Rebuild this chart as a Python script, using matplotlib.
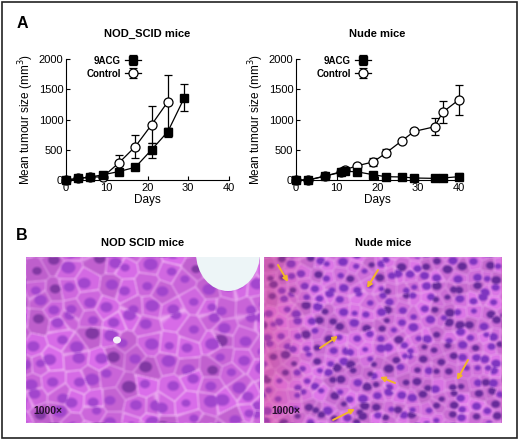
import numpy as np
import matplotlib
matplotlib.use("Agg")
import matplotlib.pyplot as plt
from matplotlib.patches import Rectangle, Ellipse

plt.rcParams['font.family'] = ['Liberation Sans', 'DejaVu Sans']

# ---------------- data ----------------
scid_days_acg = [0, 3, 6, 9, 13, 17, 21, 25, 29]
scid_acg = [0, 25, 50, 85, 140, 210, 500, 800, 1355]
scid_acg_lo = [0, 0, 0, 0, 0, 0, 135, 95, 218]
scid_acg_hi = [0, 0, 0, 0, 0, 0, 110, 60, 230]

scid_days_ctl = [0, 3, 6, 9, 13, 17, 21, 25]
scid_ctl = [0, 25, 50, 50, 284, 552, 913, 1295]
scid_ctl_lo = [0, 0, 0, 0, 130, 186, 300, 430]
scid_ctl_hi = [0, 0, 0, 0, 126, 191, 317, 443]

nude_days = [0, 3, 7, 11, 12, 15, 19, 22, 26, 29, 34, 36, 40]
nude_acg = [0, 0, 65, 125, 145, 135, 87, 55, 50, 33, 27, 33, 55]
nude_acg_lo = [0, 0, 0, 0, 0, 0, 0, 0, 0, 0, 0, 0, 30]
nude_acg_hi = [0, 0, 0, 0, 0, 0, 0, 0, 0, 0, 0, 0, 60]
nude_ctl = [0, 0, 60, 137, 170, 235, 300, 443, 650, 803, 880, 1120, 1328]
nude_ctl_lo = [0, 0, 0, 0, 0, 0, 76, 44, 0, 33, 131, 186, 246]
nude_ctl_hi = [0, 0, 0, 0, 0, 0, 66, 65, 0, 33, 147, 180, 235]

x_ticks = [0, 10, 20, 30, 40]
y_ticks = [0, 500, 1000, 1500, 2000]
series_names = ['9ACG', 'Control']
panel_titles = ['NOD_SCID mice', 'Nude mice']
image_titles = ['NOD SCID mice', 'Nude mice']
magnification = '1000\u00d7'

# arrows in right micrograph (tail -> head), image pixel coords
arrow_tails = [(14, 8), (114, 13), (56, 91), (131, 126), (204, 103), (69, 163)]
arrow_heads = [(24, 25), (103, 31), (74, 79), (116, 120), (193, 123), (91, 152)]

W, H = 520, 441
fig = plt.figure(figsize=(W / 100, H / 100), dpi=100)
fig.patch.set_facecolor('white')


def fx(px):
    return px / W


def fy(py):
    return 1 - py / H


# outer frame
fig.patches.append(Rectangle((fx(2), fy(438)), fx(515), 436 / H, transform=fig.transFigure,
                             fill=False, edgecolor='#222222', linewidth=1.2))


def plot_panel(left_px, days_a, a, alo, ahi, days_c, c, clo, chi, title):
    ax = fig.add_axes([fx(left_px), fy(180), fx(163), (180 - 59) / H])
    ax.errorbar(days_c, c, yerr=[clo, chi], color='black', lw=0.9, elinewidth=0.9,
                capsize=3, capthick=0.9, marker='o', ms=6.5, mfc='white', mec='black',
                mew=0.9, label=series_names[1], clip_on=False, zorder=3)
    ax.errorbar(days_a, a, yerr=[alo, ahi], color='black', lw=0.9, elinewidth=0.9,
                capsize=3, capthick=0.9, marker='s', ms=5.8, mfc='black', mec='black',
                label=series_names[0], clip_on=False, zorder=4)
    ax.set_xlim(0, 40)
    ax.set_ylim(0, 2000)
    ax.set_xticks(x_ticks)
    ax.set_yticks(y_ticks)
    ax.tick_params(direction='in', length=3, width=0.8, labelsize=8, pad=2)
    for s in ['top', 'right']:
        ax.spines[s].set_visible(False)
    for s in ['left', 'bottom']:
        ax.spines[s].set_linewidth(0.8)
    ax.set_xlabel('Days', fontsize=8.5, labelpad=1)
    ax.set_ylabel('Mean tumour size (mm$^3$)', fontsize=8.5, labelpad=2)
    ax.set_title(title, fontsize=8, fontweight='bold', pad=16)
    handles, labels = ax.get_legend_handles_labels()
    leg = ax.legend(handles[::-1], labels[::-1], loc='upper left', bbox_to_anchor=(0.1, 1.06),
                    frameon=False, markerfirst=False, fontsize=7, handlelength=1.7,
                    handletextpad=0.4, labelspacing=0.3, borderaxespad=0)
    for t in leg.get_texts():
        t.set_fontweight('bold')
    ax.patch.set_alpha(0)
    return ax


plot_panel(66, scid_days_acg, scid_acg, scid_acg_lo, scid_acg_hi,
           scid_days_ctl, scid_ctl, scid_ctl_lo, scid_ctl_hi, panel_titles[0])
plot_panel(296, nude_days, nude_acg, nude_acg_lo, nude_acg_hi,
           nude_days, nude_ctl, nude_ctl_lo, nude_ctl_hi, panel_titles[1])

fig.text(fx(22), fy(24), 'A', fontsize=11.5, fontweight='bold', va='center', ha='center')
fig.text(fx(22), fy(236), 'B', fontsize=11.5, fontweight='bold', va='center', ha='center')


# ---------------- micrograph-like textures (deterministic, no RNG) ----------------
def hash2(i, j, k):
    v = np.sin(i * 127.1 + j * 311.7 + k * 74.7) * 43758.5453
    return v - np.floor(v)


def blur(img, n=1):
    for _ in range(n):
        acc = np.zeros_like(img)
        for dx in (-1, 0, 1):
            for dy in (-1, 0, 1):
                acc += np.roll(np.roll(img, dx, axis=1), dy, axis=0)
        img = acc / 9.0
    return img


def tissue(w, h, cell, base, memb, nuc, nuc_r, dark_frac, edge_w, red_left=False):
    yy, xx = np.mgrid[0:h, 0:w].astype(float)
    gi = np.floor(xx / cell)
    gj = np.floor(yy / cell)
    d1 = np.full((h, w), 1e9)
    d2 = np.full((h, w), 1e9)
    idx = np.zeros((h, w))
    rsz = np.zeros((h, w))
    ncx = np.zeros((h, w))
    ncy = np.zeros((h, w))
    for di in (-1, 0, 1):
        for dj in (-1, 0, 1):
            ci = gi + di
            cj = gj + dj
            cx = (ci + 0.1 + 0.8 * hash2(ci, cj, 1)) * cell
            cy = (cj + 0.1 + 0.8 * hash2(ci, cj, 2)) * cell
            d = np.hypot(xx - cx, yy - cy)
            closer = d < d1
            d2 = np.where(closer, d1, np.minimum(d2, d))
            idx = np.where(closer, hash2(ci, cj, 3), idx)
            rsz = np.where(closer, hash2(ci, cj, 6), rsz)
            ncx = np.where(closer, cx + (hash2(ci, cj, 4) - 0.5) * cell * 0.25, ncx)
            ncy = np.where(closer, cy + (hash2(ci, cj, 5) - 0.5) * cell * 0.25, ncy)
            d1 = np.where(closer, d, d1)
    shade = (0.93 + 0.14 * idx)[..., None]
    img = np.ones((h, w, 3)) * np.array(base) * shade
    edge = np.clip(1 - (d2 - d1) / edge_w, 0, 1)[..., None] * (0.45 + 0.55 * idx[..., None])
    img = img * (1 - edge) + np.array(memb) * edge
    dark = (idx < dark_frac)[..., None]
    rr = nuc_r * (0.8 + 0.45 * rsz)
    dn = np.hypot(xx - ncx, (yy - ncy) * 1.2)
    nmask = np.clip((rr - dn) / 1.6, 0, 1)[..., None] * 0.9
    ncol = np.where(dark, np.array(nuc) * 0.78, np.array(nuc))
    img = img * (1 - nmask) + ncol * nmask
    if red_left:
        f = np.clip(1 - xx / 50, 0, 1)[..., None] * 0.4
        img = img * (1 - f) + np.array([0.86, 0.30, 0.52]) * f
    return np.clip(blur(img, 1), 0, 1)


imgL = tissue(234, 166, 19, [0.80, 0.40, 0.86], [0.95, 0.74, 0.96], [0.62, 0.26, 0.80],
              6.5, 0.15, 2.6)
imgR = tissue(238, 166, 12, [0.82, 0.44, 0.86], [0.92, 0.68, 0.93], [0.46, 0.18, 0.74],
              4.6, 0.4, 1.8, red_left=True)

axL = fig.add_axes([fx(26), fy(423), fx(234), 166 / H])
axL.imshow(imgL, extent=(0, 234, 166, 0), aspect='auto', interpolation='bilinear')
axL.add_patch(Ellipse((202, -4), 64, 76, color=[0.93, 0.96, 0.97], lw=0))
axL.add_patch(Ellipse((91, 83), 8, 7, color=[0.96, 0.94, 0.97], lw=0))
axL.set_xlim(0, 234)
axL.set_ylim(166, 0)
axL.axis('off')
axL.text(7, 159, magnification, fontsize=7.5, fontweight='bold', color='#2a1030', va='bottom')

axR = fig.add_axes([fx(264), fy(423), fx(238), 166 / H])
axR.imshow(imgR, extent=(0, 238, 166, 0), aspect='auto', interpolation='bilinear')
axR.set_xlim(0, 238)
axR.set_ylim(166, 0)
axR.axis('off')
axR.text(7, 159, magnification, fontsize=7.5, fontweight='bold', color='#2a1030', va='bottom')
for t, hd in zip(arrow_tails, arrow_heads):
    axR.annotate('', xy=hd, xytext=t,
                 arrowprops=dict(arrowstyle='-|>', color='#f2b52a', lw=1.4,
                                 mutation_scale=7, shrinkA=0, shrinkB=0))

fig.text(fx(143), fy(243), image_titles[0], fontsize=8, fontweight='bold', ha='center', va='center')
fig.text(fx(383), fy(243), image_titles[1], fontsize=8, fontweight='bold', ha='center', va='center')

fig.savefig('out.png', dpi=100, facecolor='white')
